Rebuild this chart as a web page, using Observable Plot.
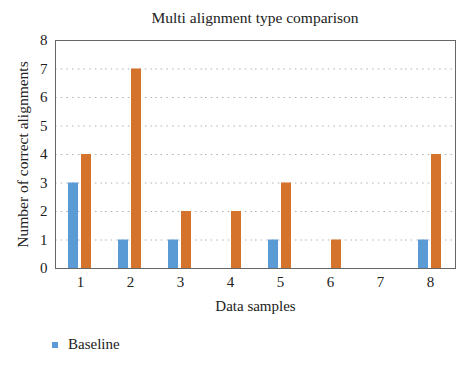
<!DOCTYPE html>
<html><head><meta charset="utf-8">
<script src="https://cdn.jsdelivr.net/npm/d3@7"></script>
<script src="https://cdn.jsdelivr.net/npm/@observablehq/plot@0.6"></script>
<style>
body{margin:0;background:#fff;font-family:"Liberation Serif",serif;color:#222;width:474px;height:365px;overflow:hidden;}
#title{height:30px;box-sizing:border-box;padding-top:9px;padding-left:36px;text-align:center;font-size:15.5px;line-height:17px;}
#chart svg{display:block;}
#legend{display:flex;align-items:center;padding-left:52px;margin-top:6px;font-size:15px;}
#legend .sw{width:6px;height:6px;margin-right:10px;}
</style></head><body>
<div id="title">Multi alignment type comparison</div>
<div id="chart"></div>
<div id="legend"></div>
<script>
const samples = ["1","2","3","4","5","6","7","8"];
const baseline = [3,1,1,0,1,0,0,1];
const proposed = [4,7,2,2,3,1,0,4];
const seriesNames = ["Baseline","Proposed"];
const colors = ["#5b9bd5","#d5722b"];
const yTicks = [0,1,2,3,4,5,6,7,8];
const gridValues = [1,2,3,4,5,6,7];
const legendNames = ["Baseline"];

const data = samples.flatMap((s,i)=>[
  {sample:s, series:seriesNames[0], value:baseline[i]},
  {sample:s, series:seriesNames[1], value:proposed[i]}
]);
try {
const chart = Plot.plot({
  width:474, height:300, marginTop:10, marginBottom:62, marginLeft:53, marginRight:17,
  style:{fontFamily:"Liberation Serif, serif", fontSize:"15px", color:"#222", background:"#fff"},
  facet:{data, x:"sample"},
  fx:{domain:samples, padding:0, label:"Data samples", labelArrow:false, axis:"bottom", tickSize:0, tickPadding:8, labelAnchor:"center", labelOffset:42},
  x:{domain:seriesNames, axis:null, paddingInner:0.214, paddingOuter:0.91},
  y:{domain:[0,8], ticks:yTicks, tickSize:0, tickPadding:8, label:"Number of correct alignments", labelArrow:false, labelAnchor:"center", labelOffset:39},
  color:{domain:seriesNames, range:colors},
  marks:[
    Plot.ruleY(gridValues, {stroke:"#b0b0b0", strokeDasharray:"1.5,4.2", strokeWidth:1}),
    Plot.barY(data, {x:"series", y:"value", fill:"series"}),
    Plot.frame({stroke:"#666", facet:"super"})
  ]
});
chart.querySelectorAll("g[aria-label='y-axis label'] text, g[aria-label='y-axis label']").forEach(el=>el.setAttribute("font-size","15.5"));
document.getElementById("chart").appendChild(chart);
} catch(e) { document.body.append(String(e)); }
const lg = document.getElementById("legend");
legendNames.forEach(n=>{
  const sw=document.createElement("div"); sw.className="sw"; sw.style.background=colors[seriesNames.indexOf(n)];
  const t=document.createElement("span"); t.textContent=n;
  lg.append(sw,t);
});
</script>
</body></html>
